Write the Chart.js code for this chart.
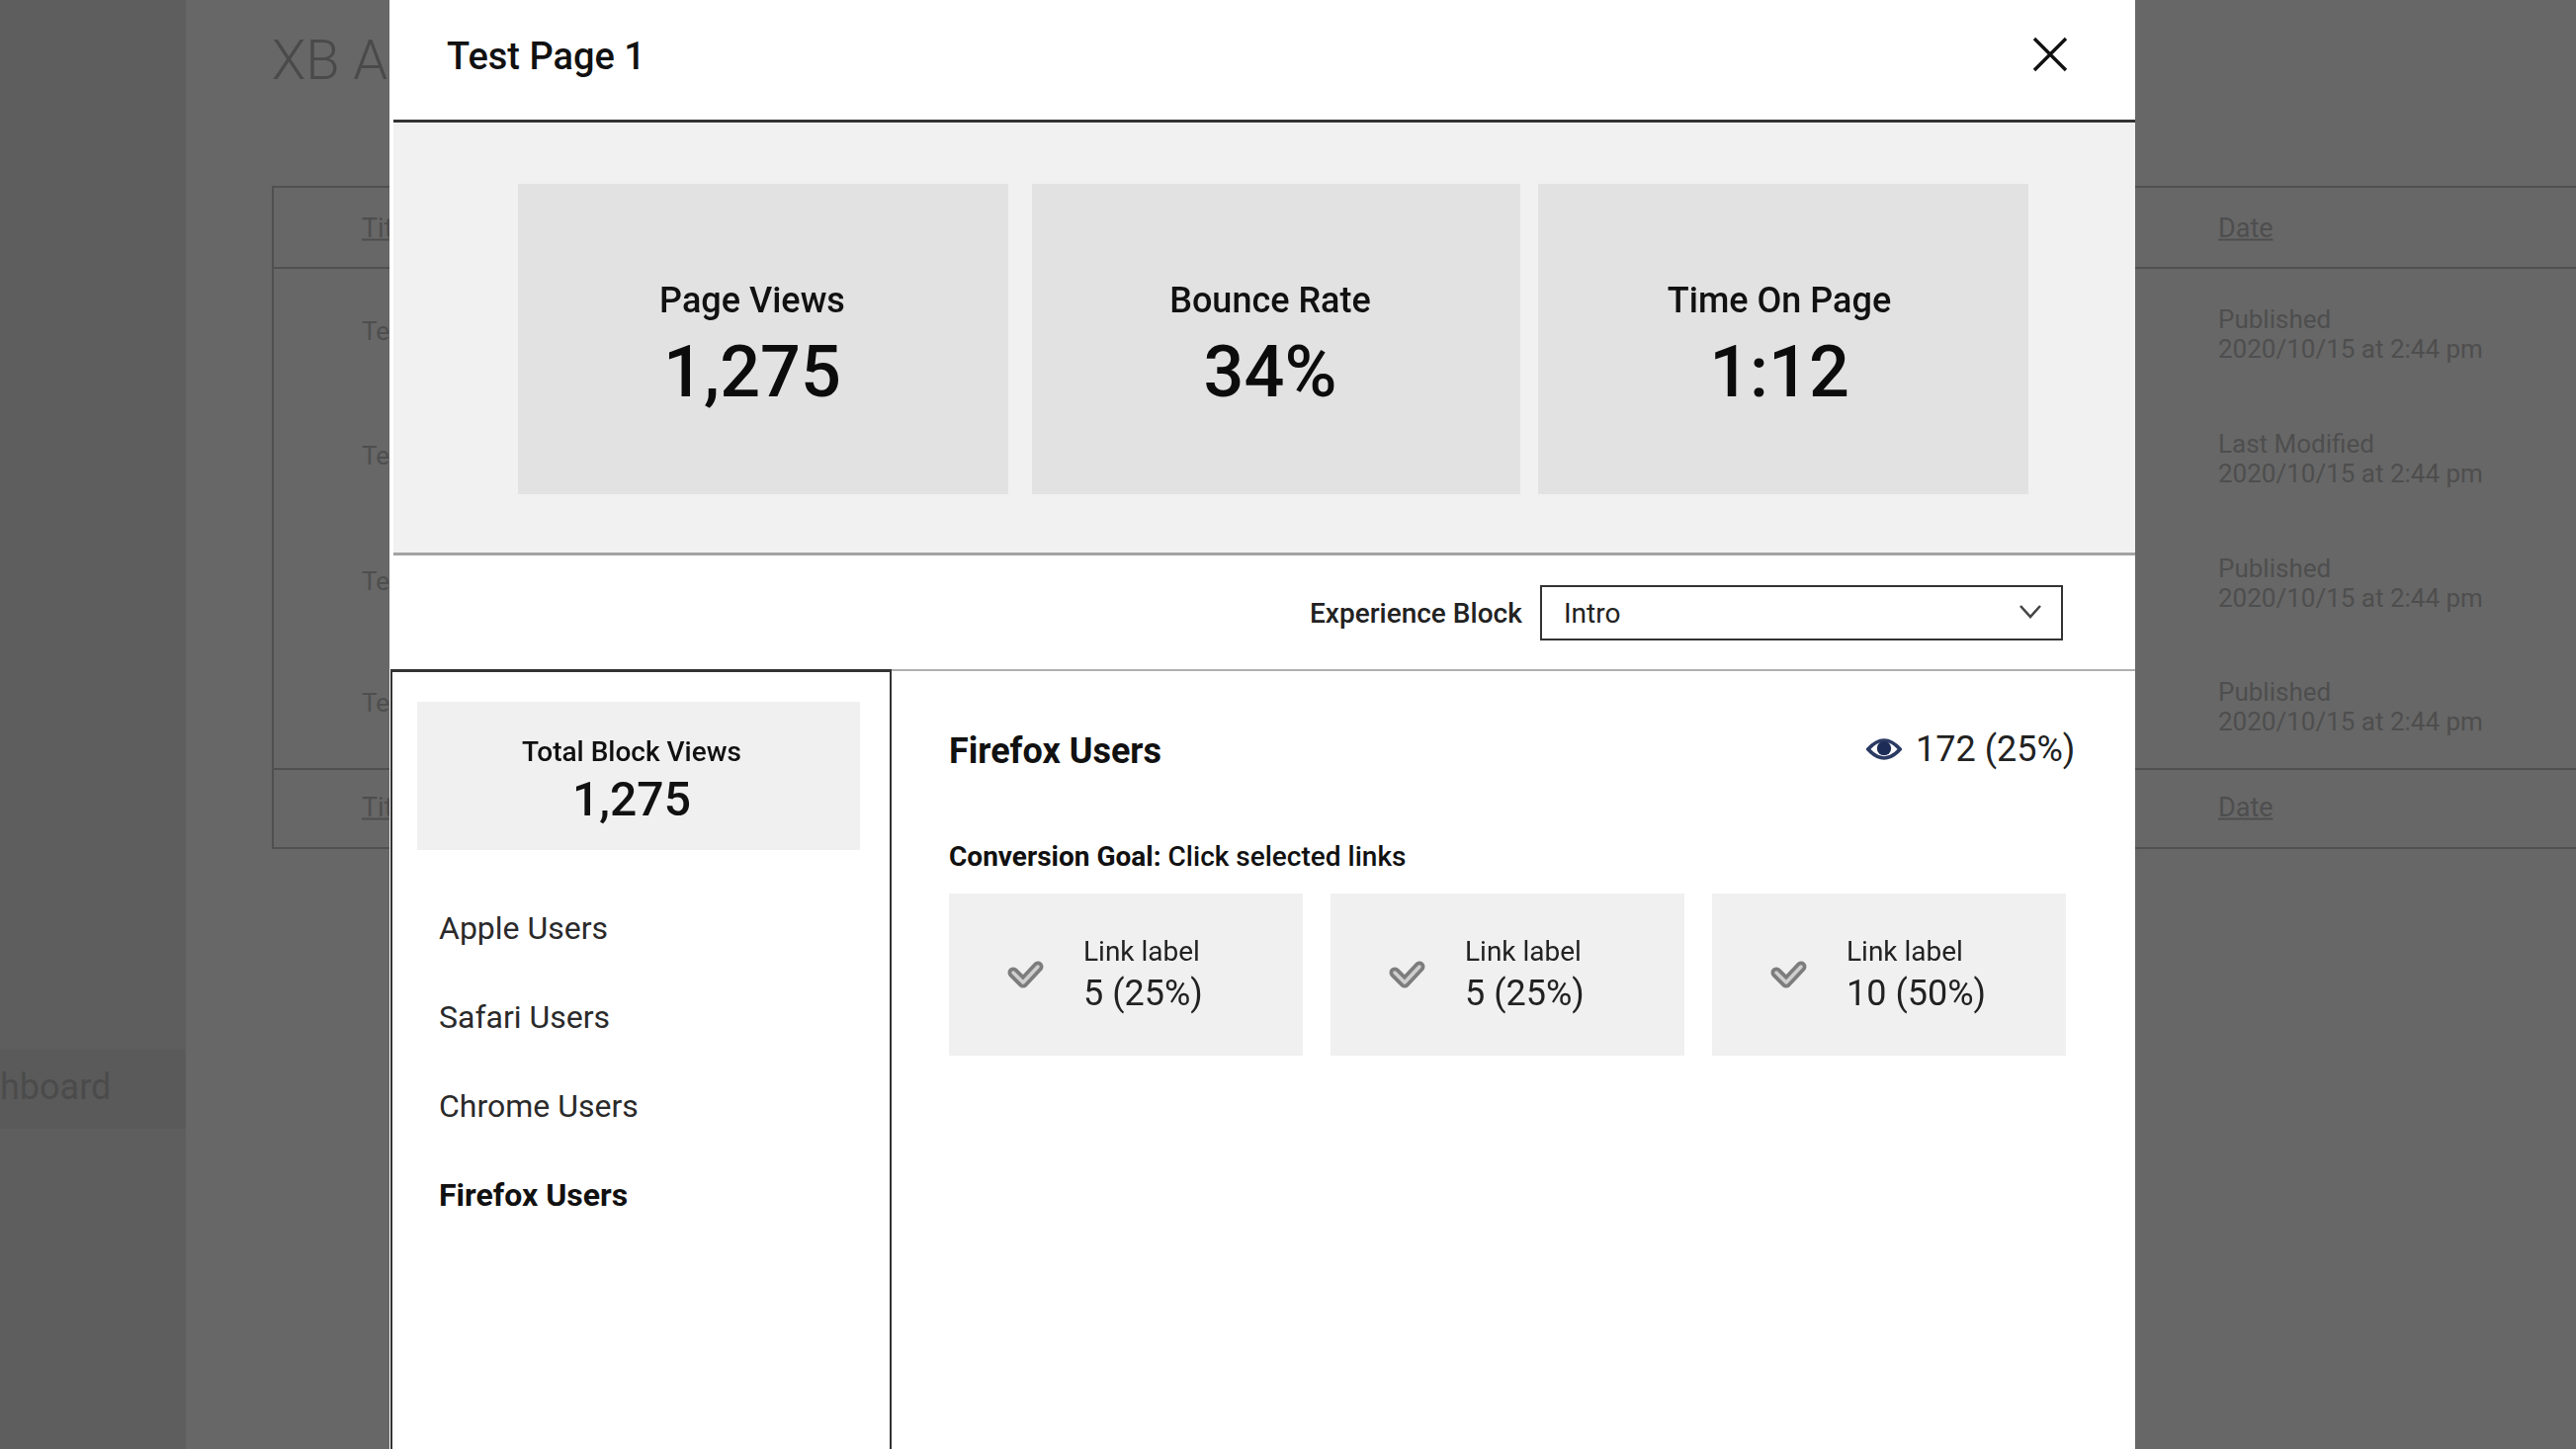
<!DOCTYPE html>
<html>
<head>
<meta charset="utf-8">
<title>Test Page 1</title>
<script src="https://cdn.jsdelivr.net/npm/chart.js@4"></script>
<style>
  html, body { margin: 0; padding: 0; }
  body { width: 2606px; height: 1466px; overflow: hidden; position: relative; background: #676767; font-family: Roboto, sans-serif; }
  .box, .txt, canvas, svg { position: absolute; }
  .txt { white-space: nowrap; line-height: 1; transform: translateY(-50%); }
  .bg { color: #4e4e4e; font-size: 26px; }
  .ul { text-decoration: underline; }
</style>
</head>
<body>
<div id="page"></div>
<script>
const kpiLabels = ['Page Views', 'Bounce Rate', 'Time On Page'];
const kpiValues = ['1,275', '34%', '1:12'];
const blockLabels = ['Total Block Views'];
const blockValues = ['1,275'];
const audiences = ['Apple Users', 'Safari Users', 'Chrome Users', 'Firefox Users'];
const selectedAudience = 'Firefox Users';
const audienceViews = '172 (25%)';
const linkLabels = ['Link label', 'Link label', 'Link label'];
const linkCounts = [5, 5, 10];
const linkShares = [25, 25, 50];
const dateStatus = ['Published', 'Last Modified', 'Published', 'Published'];
const dateStamp = '2020/10/15 at 2:44 pm';

// every tile is a full height bar, so this is just "filled"
const tileFill = (labels) => labels.map(() => 1);

const page = document.getElementById('page');

const box = (x, y, w, h, css) => {
  const el = document.createElement('div');
  el.className = 'box';
  el.style.cssText = `left:${x}px;top:${y}px;width:${w}px;height:${h}px;${css}`;
  page.appendChild(el);
  return el;
};

const text = (x, y, str, css = '', cls = '') => {
  const el = document.createElement('span');
  el.className = `txt ${cls}`;
  el.style.cssText = `left:${x}px;top:${y}px;${css}`;
  el.textContent = str;
  page.appendChild(el);
  return el;
};

// backdrop behind the modal
box(0, 0, 188, 1466, 'background:#5e5e5e');
box(0, 1062, 188, 80, 'background:#5a5a5a');
text(0, 1100, 'hboard', 'font-size:36px;color:#4b4b4b');
text(275, 61, 'XB A', 'font-size:56px;font-weight:300;color:#4a4a4a');
box(275, 188, 2331, 2, 'background:#505050');
box(275, 270, 2331, 2, 'background:#505050');
box(275, 777, 2331, 2, 'background:#505050');
box(275, 857, 2331, 2, 'background:#505050');
box(275, 188, 2, 671, 'background:#505050');
text(366, 231, 'Title', 'font-size:27px', 'bg ul');
text(366, 817, 'Title', 'font-size:27px', 'bg ul');
[335, 461, 588, 711].forEach((y) => text(366, y, 'Test', '', 'bg'));
text(2244, 231, 'Date', 'font-size:27px', 'bg ul');
text(2244, 817, 'Date', 'font-size:27px', 'bg ul');
[323, 449, 575, 700].forEach((y, i) => {
  text(2244, y, dateStatus[i], '', 'bg');
  text(2244, y + 30, dateStamp, '', 'bg');
});

// modal shell
box(394, 0, 1766, 1466, 'background:#fff');
box(398, 125, 1762, 435, 'background:#f1f1f1');
box(398, 121, 1762, 3, 'background:#333');
box(398, 559, 1762, 3, 'background:#a3a3a3');
box(901, 677, 1259, 2, 'background:#b0b0b0');
box(395, 677, 506, 3, 'background:#333');
box(395, 677, 2, 789, 'background:#333');
box(900, 677, 2, 789, 'background:#333');

text(452, 57, 'Test Page 1', 'font-size:38px;font-weight:500;color:#111');
page.insertAdjacentHTML('beforeend',
  '<svg style="left:2056px;top:37px" width="36" height="36" viewBox="0 0 36 36"><path d="M2 2 L34 34 M34 2 L2 34" stroke="#111" stroke-width="3.4" fill="none"/></svg>');

text(1325, 621, 'Experience Block', 'font-size:28px;font-weight:500;color:#222');
box(1558, 592, 525, 52, 'background:#fff;border:2px solid #333');
text(1582, 621, 'Intro', 'font-size:28px;color:#222');
page.insertAdjacentHTML('beforeend',
  '<svg style="left:2042px;top:611px" width="24" height="16" viewBox="0 0 24 16"><path d="M2 2 L12 13 L22 2" stroke="#444" stroke-width="2.6" fill="none"/></svg>');

audiences.forEach((name, i) => {
  const on = name === selectedAudience;
  text(444, 938.5 + i * 90, name, `font-size:32px;color:${on ? '#111' : '#2a2a2a'};font-weight:${on ? 700 : 400}`);
});

text(960, 760, selectedAudience, 'font-size:36px;font-weight:700;color:#111');
page.insertAdjacentHTML('beforeend',
  '<svg style="left:1888px;top:745px" width="36" height="26" viewBox="0 0 40 28"><path d="M2 14 Q20 -6 38 14 Q20 34 2 14 Z" fill="#fff" stroke="#2b3a63" stroke-width="4"/><circle cx="20" cy="13" r="8" fill="#1d2c57"/></svg>');
text(1938, 758, audienceViews, 'font-size:36px;color:#222');
const goal = text(960, 867, '', 'font-size:28px;font-weight:500;color:#111');
goal.innerHTML = '<b>Conversion Goal:</b> Click selected links';

const makeCanvas = (x, y, w, h) => {
  const c = document.createElement('canvas');
  c.width = w;
  c.height = h;
  c.style.cssText = `left:${x}px;top:${y}px;width:${w}px;height:${h}px`;
  page.appendChild(c);
  return c;
};

const tileChart = (canvas, labels, share, color, drawTile) => new Chart(canvas.getContext('2d'), {
  type: 'bar',
  data: {
    labels,
    datasets: [{ data: tileFill(labels), backgroundColor: color, borderWidth: 0, categoryPercentage: 1, barPercentage: share }],
  },
  options: {
    responsive: false,
    animation: false,
    devicePixelRatio: 1,
    layout: { padding: 0 },
    plugins: { legend: { display: false }, tooltip: { enabled: false } },
    scales: {
      x: { display: false },
      y: { display: false, min: 0, max: 1 },
    },
  },
  plugins: [{
    id: 'tileText',
    afterDatasetsDraw(chart) {
      const { ctx } = chart;
      ctx.save();
      ctx.textBaseline = 'middle';
      chart.getDatasetMeta(0).data.forEach((bar, i) => drawTile(ctx, bar, i));
      ctx.restore();
    },
  }],
});

// the three big tiles are not evenly spaced in the mockup, so one canvas each
const kpiBoxes = [[524, 496, -11], [1044, 494, -6], [1556, 496, -4]];
kpiBoxes.forEach(([left, width, nudge], k) => {
  tileChart(makeCanvas(left, 186, width, 314), [kpiLabels[k]], 1, '#e2e2e2', (ctx, bar) => {
    const x = bar.x + nudge;
    ctx.textAlign = 'center';
    ctx.fillStyle = '#111';
    ctx.font = '500 36px Roboto';
    ctx.fillText(kpiLabels[k], x, 121);
    ctx.fillStyle = '#0c0c0c';
    ctx.font = '500 72px Roboto';
    ctx.fillText(kpiValues[k], x, 197);
  });
});

tileChart(makeCanvas(422, 710, 448, 150), blockLabels, 1, '#f0f0f0', (ctx, bar, i) => {
  const x = bar.x - 7;
  ctx.textAlign = 'center';
  ctx.fillStyle = '#111';
  ctx.font = '500 28px Roboto';
  ctx.fillText(blockLabels[i], x, 53);
  ctx.font = '500 48px Roboto';
  ctx.fillText(blockValues[i], x, 103);
});

tileChart(makeCanvas(946, 904, 1158, 164), linkLabels, 358 / 386, '#f0f0f0', (ctx, bar, i) => {
  const left = bar.x - bar.width / 2;
  ctx.textAlign = 'left';
  ctx.fillStyle = '#222';
  ctx.font = '400 28px Roboto';
  ctx.fillText(linkLabels[i], left + 136, 61);
  ctx.font = '400 36px Roboto';
  ctx.fillText(`${linkCounts[i]} (${linkShares[i]}%)`, left + 136, 104);

  const tick = new Path2D(`M${left + 65} 80 L${left + 75} 90 L${left + 90} 74`);
  ctx.lineJoin = 'round';
  ctx.lineCap = 'round';
  ctx.strokeStyle = '#7d7d7d';
  ctx.lineWidth = 11;
  ctx.stroke(tick);
  ctx.strokeStyle = '#cfcfcf';
  ctx.lineWidth = 3.5;
  ctx.stroke(tick);
});
</script>
</body>
</html>
